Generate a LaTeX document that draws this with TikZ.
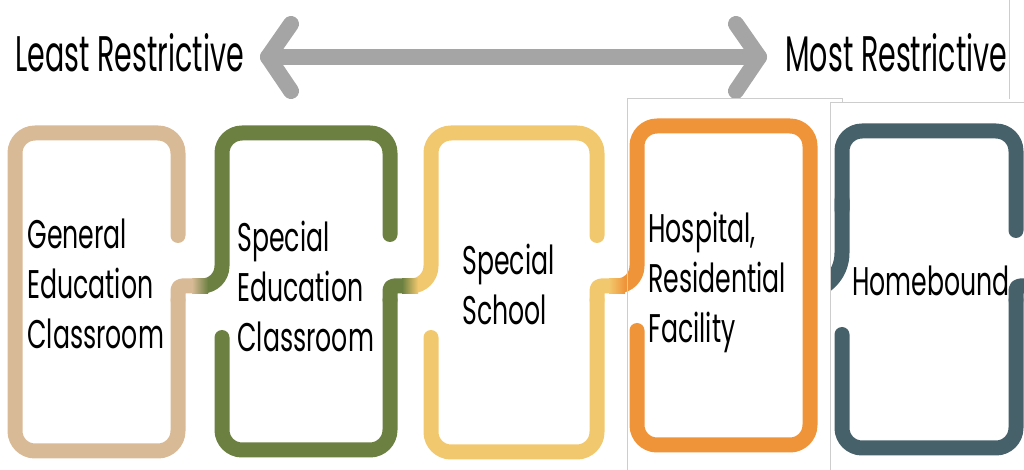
\documentclass[tikz,border=0pt]{standalone}
\usepackage{fontspec}
\newfontfamily\labelfont[FakeStretch=0.57]{Poppins}
\newfontfamily\boxfont[FakeStretch=0.63]{Poppins}
\definecolor{tanline}{RGB}{216,186,150}
\definecolor{greenline}{RGB}{108,128,66}
\definecolor{yellowline}{RGB}{242,200,110}
\definecolor{orangeline}{RGB}{240,148,58}
\definecolor{slateline}{RGB}{71,97,106}
\definecolor{arrowgrey}{RGB}{165,165,165}
\definecolor{edgegrey}{RGB}{205,205,205}
\tikzset{
  boxline/.style={line width=7.5pt, line cap=round, line join=round, rounded corners=10pt},
  joint/.style={boxline, rounded corners=2pt},
  bigarrow/.style={line width=8pt, arrowgrey, line cap=round, line join=round},
  imgedge/.style={edgegrey, line width=0.5pt},
  endlabel/.style={inner sep=0pt, anchor=west, font=\labelfont\fontsize{25}{30}\selectfont},
  boxtext/.style={inner sep=0pt, anchor=west, align=left, font=\boxfont\fontsize{20}{25}\selectfont}
}
\begin{document}
\begin{tikzpicture}[x=0.5pt, y=-0.5pt]
    \useasboundingbox (0,0) rectangle (1024,470);

    \node[endlabel] (least) at (15,52.5) {Least Restrictive};
    \node[endlabel] (most) at (785,52.5) {Most Restrictive};
    \coordinate (tipL) at (268,57);
    \coordinate (tipR) at (759,57);
    \draw[bigarrow] (tipL) -- (tipR);
    \draw[bigarrow] (tipL) ++(23,-33) -- (tipL) -- ++(23,34);
    \draw[bigarrow] (tipR) ++(-23,-33) -- (tipR) -- ++(-23,34);

    \draw[boxline, tanline] (178,235.5) -- (178,133) -- (15,133) -- (15,451) -- (178,451) -- (178,300);
    \draw[joint, tanline] (178,300) -- (178,286) -- (200,286);

    \draw[boxline, greenline] (200,286) -- (222,286) -- (222,133) -- (390,133) -- (390,234.5);
    \draw[boxline, greenline] (222,337.5) -- (222,450) -- (390,450) -- (390,300);
    \draw[joint, greenline] (390,300) -- (390,286) -- (410,286);

    \draw[boxline, yellowline] (410,286) -- (431,286) -- (431,133) -- (597,133) -- (597,235.5);
    \draw[boxline, yellowline] (431,337.5) -- (431,452) -- (597,452) -- (597,300);
    \draw[joint, yellowline] (597,300) -- (597,286) -- (617,286);

    \draw[boxline, orangeline] (617,286) -- (637,286) -- (637,126) -- (810,126) -- (810,445) -- (637,445) -- (637,330.5);

    \begin{scope}
        \clip (830,0) rectangle (1024,470);
        \draw[boxline, slateline, rounded corners=20pt] (780,293) -- (842,293) -- (842,200);
    \end{scope}
    \draw[boxline, slateline] (842,210) -- (842,131) -- (1016,131) -- (1016,230.5);
    \draw[boxline, slateline] (842,334.5) -- (842,448) -- (1016,448) -- (1016,300);
    \draw[joint, slateline] (1016,300) -- (1016,286) -- (1040,286);

    \shade[left color=tanline, right color=greenline] (192,278.5) rectangle (208,293.5);
    \shade[left color=greenline, right color=yellowline] (402,278.5) rectangle (418,293.5);
    \shade[left color=yellowline, right color=orangeline] (609,278.5) rectangle (625,293.5);

    \draw[imgedge] (627,470) -- (627,99) -- (842,99) -- (842,103);
    \draw[imgedge] (830,470) -- (830,103) -- (1024,103);
    \draw[imgedge] (1009,0) -- (1009,99);

    \node[boxtext] (gened) at (27,284) {General\\Education\\Classroom};
    \node[boxtext] (speded) at (237,286) {Special\\Education\\Classroom};
    \node[boxtext] (spschool) at (462,284) {Special\\School};
    \node[boxtext] (hospital) at (648,282) {Hospital,\\Residential\\Facility};
    \node[boxtext] (homebound) at (852,281) {Homebound};
\end{tikzpicture}
\end{document}
